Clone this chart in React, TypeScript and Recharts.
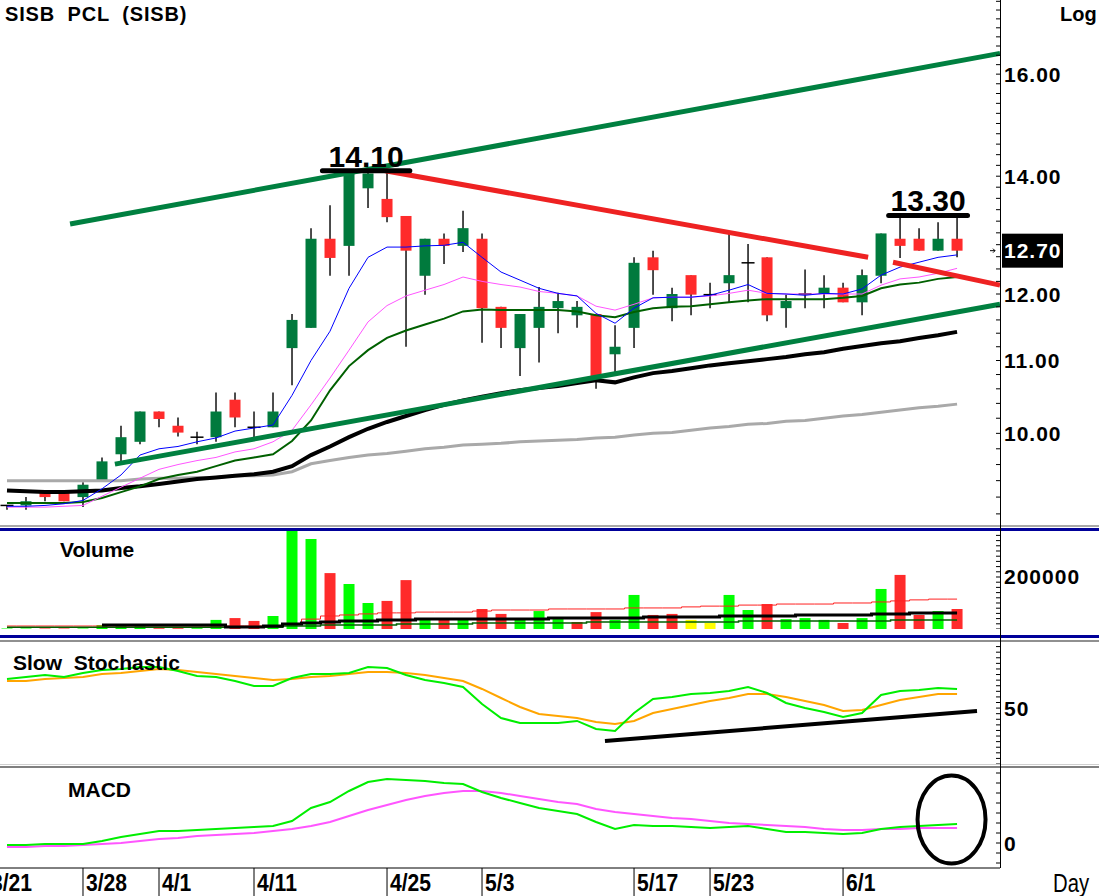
import React from 'react';
import { ComposedChart, Bar, Line, XAxis, YAxis, ReferenceLine, ReferenceDot, Cell } from 'recharts';

// ---------------- data ----------------
const opens = [9.10, 9.10, 9.25, 9.25, 9.20, 9.40, 9.73, 9.89, 10.29, 10.10,
  9.95, 9.95, 10.45, 10.08, 10.08, 11.18, 11.48, 12.90, 12.78, 13.78,
  13.59, 13.29, 12.29, 12.90, 12.78, 12.90, 11.80, 11.18, 11.48, 11.78,
  11.67, 11.69, 11.09, 11.48, 12.59, 11.78, 12.30, 11.99, 12.17, 12.50,
  12.59, 11.78, 12.00, 12.00, 12.10, 11.87, 12.29, 12.90, 12.90, 12.70,
  12.90];
const highs = [9.10, 9.20, 9.25, 9.25, 9.38, 9.69, 10.10, 10.29, 10.29, 10.21,
  10.02, 10.55, 10.55, 10.29, 10.55, 11.69, 13.08, 13.48, 14.10, 14.10,
  14.10, 13.29, 12.90, 12.99, 13.38, 12.99, 11.80, 11.69, 12.11, 12.02,
  11.89, 11.69, 11.52, 12.59, 12.70, 12.10, 12.30, 12.18, 12.99, 12.81,
  12.59, 11.99, 12.39, 12.30, 12.18, 12.39, 12.99, 13.30, 13.08, 13.18,
  13.30];
const lows = [9.05, 9.05, 9.15, 9.15, 9.08, 9.40, 9.62, 9.86, 10.08, 9.96,
  9.86, 9.89, 10.08, 9.95, 10.08, 10.65, 11.48, 12.29, 12.29, 13.43,
  13.18, 11.20, 11.99, 12.48, 12.68, 11.26, 11.18, 10.78, 10.97, 11.40,
  11.48, 10.60, 10.83, 11.18, 11.99, 11.58, 11.67, 11.78, 11.87, 11.87,
  11.58, 11.48, 11.78, 11.78, 11.87, 11.67, 12.17, 12.58, 12.70, 12.70,
  12.59];
const closes = [9.10, 9.15, 9.20, 9.15, 9.35, 9.64, 9.95, 10.29, 10.19, 10.01,
  9.95, 10.29, 10.21, 10.08, 10.29, 11.60, 12.90, 12.58, 14.05, 14.05,
  13.27, 12.70, 12.90, 12.78, 13.08, 11.78, 11.48, 11.69, 11.80, 11.89,
  11.80, 10.78, 11.20, 12.50, 12.38, 12.00, 11.99, 11.99, 12.30, 12.50,
  11.67, 11.89, 12.00, 12.10, 11.87, 12.30, 12.99, 12.78, 12.70, 12.90,
  12.70];

const maBlue = [9.09, 9.09, 9.10, 9.12, 9.16, 9.30, 9.47, 9.72, 9.80, 9.83,
  9.89, 9.94, 10.03, 10.07, 10.11, 10.51, 11.00, 11.43, 12.09, 12.59,
  12.76, 12.76, 12.78, 12.79, 12.84, 12.59, 12.35, 12.22, 12.09, 12.01,
  11.97, 11.70, 11.55, 11.78, 11.94, 11.95, 11.95, 11.98, 12.06, 12.15,
  12.01, 12.00, 11.98, 12.01, 12.00, 12.08, 12.30, 12.43, 12.51, 12.59,
  12.63];
const maMagenta = [9.08, 9.08, 9.08, 9.09, 9.10, 9.21, 9.32, 9.43, 9.54, 9.60,
  9.65, 9.69, 9.76, 9.80, 9.89, 10.04, 10.38, 10.75, 11.15, 11.57,
  11.82, 11.97, 12.06, 12.15, 12.27, 12.20, 12.15, 12.11, 12.04, 12.01,
  11.97, 11.81, 11.75, 11.84, 11.94, 11.95, 11.95, 11.97, 12.01, 12.06,
  12.01, 12.00, 12.00, 12.00, 12.00, 12.00, 12.14, 12.24, 12.27, 12.33,
  12.41];
const maDarkGreen = [9.13, 9.13, 9.13, 9.13, 9.14, 9.19, 9.26, 9.33, 9.42, 9.47,
  9.51, 9.58, 9.65, 9.69, 9.73, 9.90, 10.17, 10.58, 10.92, 11.15,
  11.33, 11.44, 11.53, 11.62, 11.73, 11.76, 11.75, 11.75, 11.75, 11.75,
  11.73, 11.67, 11.64, 11.72, 11.78, 11.80, 11.81, 11.84, 11.87, 11.90,
  11.92, 11.92, 11.92, 11.92, 11.94, 11.97, 12.09, 12.15, 12.18, 12.24,
  12.27];
const maBlack = [9.28, 9.27, 9.26, 9.26, 9.27, 9.28, 9.31, 9.33, 9.36, 9.39,
  9.42, 9.44, 9.46, 9.48, 9.51, 9.58, 9.72, 9.83, 9.95, 10.06,
  10.15, 10.23, 10.31, 10.38, 10.44, 10.49, 10.54, 10.58, 10.61, 10.64,
  10.68, 10.72, 10.69, 10.76, 10.82, 10.85, 10.89, 10.93, 10.96, 10.99,
  11.02, 11.05, 11.09, 11.12, 11.17, 11.21, 11.25, 11.28, 11.33, 11.37,
  11.42];
const maGray = [9.40, 9.40, 9.40, 9.40, 9.40, 9.40, 9.40, 9.42, 9.43, 9.43,
  9.44, 9.44, 9.46, 9.46, 9.47, 9.51, 9.61, 9.65, 9.69, 9.72,
  9.74, 9.77, 9.80, 9.82, 9.85, 9.86, 9.87, 9.89, 9.90, 9.91,
  9.92, 9.94, 9.95, 9.98, 10.00, 10.01, 10.04, 10.07, 10.09, 10.12,
  10.13, 10.16, 10.17, 10.20, 10.23, 10.25, 10.28, 10.31, 10.34, 10.36,
  10.39];

const volumes = [2000, 2000, 2000, 2000, 2000, 15000, 19000, 19000, 3000, 3000,
  3000, 35000, 42000, 31000, 50000, 420000, 346000, 215000, 173000, 100000,
  108000, 188000, 42000, 38000, 38000, 77000, 58000, 35000, 69000, 38000,
  27000, 65000, 35000, 131000, 54000, 58000, 35000, 23000, 131000, 73000,
  96000, 38000, 42000, 35000, 23000, 42000, 154000, 208000, 54000, 69000,
  77000];
const volumeColors = ['g', 'g', 'r', 'r', 'g', 'g', 'g', 'g', 'r', 'r',
  'g', 'g', 'r', 'r', 'g', 'g', 'g', 'r', 'g', 'g',
  'r', 'r', 'g', 'r', 'g', 'r', 'r', 'g', 'g', 'g',
  'r', 'r', 'g', 'g', 'r', 'r', 'y', 'y', 'g', 'g',
  'r', 'g', 'g', 'g', 'r', 'g', 'g', 'r', 'r', 'g',
  'r'];
const volAvgRed = [11500, 11500, 11500, 11500, 11500, 11500, 11500, 11500, 11500, 11500,
  11500, 11500, 11500, 11500, 11500, 19000, 38000, 50000, 54000, 58000,
  62000, 62000, 65000, 65000, 65000, 69000, 73000, 73000, 73000, 77000,
  77000, 77000, 77000, 81000, 81000, 81000, 85000, 88000, 88000, 92000,
  92000, 96000, 96000, 96000, 100000, 100000, 104000, 108000, 112000, 115000,
  115000];
const volAvgBlack = [null, null, null, null, null, 15000, 15000, 15000, 15000, 15000,
  15000, 15000, 8000, 8000, 12000, 19000, 23000, 27000, 31000, 31000,
  35000, 35000, 38000, 38000, 38000, 38000, 38000, 38000, 38000, 42000,
  42000, 42000, 42000, 42000, 46000, 46000, 46000, 46000, 50000, 50000,
  50000, 50000, 54000, 54000, 54000, 54000, 58000, 58000, 62000, 62000,
  62000];
const volAvgGreen = [6500, 6500, 6500, 6500, 6500, 6500, 6500, 6500, 6500, 6500,
  6500, 6500, 6500, 6500, 6500, 11500, 11500, 15000, 15000, 15000,
  15000, 19000, 19000, 19000, 19000, 23000, 23000, 23000, 23000, 23000,
  23000, 27000, 27000, 27000, 27000, 27000, 27000, 27000, 27000, 31000,
  31000, 31000, 31000, 31000, 31000, 31000, 31000, 35000, 35000, 35000,
  35000];

const stochK = [76.0, 77.8, 79.6, 77.8, 81.4, 84.1, 85.0, 86.8, 86.8, 83.2,
  78.7, 77.8, 74.2, 69.8, 69.8, 76.9, 80.5, 80.5, 81.4, 86.8,
  85.9, 79.6, 75.1, 72.5, 68.9, 53.7, 41.1, 36.7, 36.7, 36.7,
  38.5, 31.3, 29.5, 45.6, 58.1, 59.9, 62.6, 63.5, 65.3, 68.9,
  63.5, 54.6, 50.1, 46.5, 42.0, 45.6, 61.7, 65.3, 66.2, 68.0,
  67.1];
const stochD = [74.2, 74.2, 76.0, 76.9, 77.8, 80.5, 81.4, 83.2, 85.0, 84.1,
  82.3, 80.5, 78.7, 76.9, 75.1, 76.0, 77.8, 78.7, 80.5, 82.3,
  82.3, 81.4, 79.6, 76.9, 74.2, 67.1, 59.0, 51.0, 44.7, 42.9,
  41.1, 37.6, 35.8, 38.5, 45.6, 49.2, 52.8, 56.4, 59.0, 62.6,
  62.6, 59.9, 56.4, 52.8, 47.4, 48.3, 52.8, 57.2, 59.9, 62.6,
  62.6];

const macdLine = [-0.02, -0.02, -0.01, -0.01, -0.01, 0.02, 0.06, 0.09, 0.12, 0.12,
  0.13, 0.14, 0.15, 0.16, 0.17, 0.22, 0.35, 0.41, 0.52, 0.61,
  0.64, 0.63, 0.62, 0.60, 0.59, 0.51, 0.45, 0.40, 0.35, 0.32,
  0.29, 0.21, 0.14, 0.18, 0.17, 0.17, 0.16, 0.15, 0.16, 0.17,
  0.14, 0.11, 0.11, 0.10, 0.09, 0.10, 0.14, 0.16, 0.17, 0.18,
  0.19];
const macdSignal = [-0.04, -0.04, -0.03, -0.03, -0.02, -0.01, 0.00, 0.02, 0.04, 0.05,
  0.07, 0.08, 0.09, 0.10, 0.12, 0.14, 0.17, 0.21, 0.27, 0.33,
  0.38, 0.43, 0.47, 0.50, 0.52, 0.52, 0.50, 0.47, 0.44, 0.41,
  0.39, 0.34, 0.31, 0.29, 0.27, 0.25, 0.24, 0.22, 0.20, 0.19,
  0.18, 0.17, 0.16, 0.14, 0.13, 0.13, 0.14, 0.14, 0.15, 0.15,
  0.15];

// date axis (candle index -> label)
const dateTickIndex = [-1, 4, 8, 13, 20, 25, 33, 37, 44];
const dateTickLabels = ['3/21', '3/28', '4/1', '4/11', '4/25', '5/3', '5/17', '5/23', '6/1'];

// right-axis labels
const priceLabels = [10, 11, 12, 14, 16];
const lastPrice = 12.70;
const volumeLabels = [200000];
const stochLabels = [50];
const macdLabels = [0];

// drawn annotations (candle index, value)
const upperChannel = [{ x: 3.32, y: 13.15 }, { x: 52.26, y: 16.44 }];
const lowerChannel = [{ x: 5.68, y: 9.605 }, { x: 52.26, y: 11.84 }];
const redLine1 = [{ x: 19.9, y: 14.10 }, { x: 45.32, y: 12.59 }];
const redLine2 = [{ x: 46.63, y: 12.51 }, { x: 52.26, y: 12.14 }];
const peakMark = [{ x: 16.6, y: 14.10 }, { x: 21.2, y: 14.10 }];
const topMark = [{ x: 46.4, y: 13.30 }, { x: 50.55, y: 13.30 }];
const stochTrend = [{ x: 31.47, y: 20.6 }, { x: 51.05, y: 47.4 }];
const macdCircle = { x: 49.71, y: 0.235 };

// ---------------- layout constants ----------------
const W = 1099;
const FONT = '"Liberation Sans", Arial, Helvetica, sans-serif';
const X_DOMAIN: [number, number] = [-0.368, 52.26];
const PRICE_DOMAIN: [number, number] = [8.87, 17.63];
const VOL_DOMAIN: [number, number] = [0, 376900];
const STOCH_DOMAIN: [number, number] = [0, 110];
const MACD_DOMAIN: [number, number] = [-0.25, 0.75];
const M = { top: 0, right: 0, bottom: 0, left: 0 };
const CANDLE_UP = '#007a3d';
const CANDLE_DOWN = '#ff2b2b';
const VOL_COLORS: Record<string, string> = { g: '#00ff00', r: '#ff2b2b', y: '#ffff00' };

const priceTicks = [...Array.from({ length: 44 }, (_, k) => +(9 + 0.2 * k).toFixed(1)), lastPrice].sort((a, b) => a - b);
const volTicks = Array.from({ length: 19 }, (_, k) => k * 20000);
const stochTicks = Array.from({ length: 23 }, (_, k) => k * 5);
const macdTicks = Array.from({ length: 10 }, (_, k) => +(-0.2 + 0.1 * k).toFixed(1));

const priceRows = opens.map((o, i) => ({
  i,
  o,
  c: closes[i],
  wick: [lows[i], highs[i]],
  body: [Math.min(o, closes[i]), Math.max(o, closes[i])],
  blue: maBlue[i],
  magenta: maMagenta[i],
  dgreen: maDarkGreen[i],
  black: maBlack[i],
  gray: maGray[i],
}));
const volRows = volumes.map((v, i) => ({ i, v, red: volAvgRed[i], black: volAvgBlack[i], green: volAvgGreen[i] }));
const stochRows = stochK.map((k, i) => ({ i, k, d: stochD[i] }));
const macdRows = macdLine.map((m, i) => ({ i, m, s: macdSignal[i] }));

// ---------------- shapes ----------------
const WickShape = (p: any) => {
  const { x, y, width, height } = p;
  if (x == null || y == null) return <g />;
  const cx = x + width / 2;
  return <line x1={cx} x2={cx} y1={y} y2={y + height} stroke="#000" strokeWidth={1.4} />;
};

const BodyShape = (p: any) => {
  const { x, y, width, height, payload } = p;
  if (x == null || y == null) return <g />;
  const top = Math.min(y, y + height);
  const h = Math.abs(height);
  if (h < 1) {
    return <line x1={x - 1} x2={x + width + 1} y1={top} y2={top} stroke="#000" strokeWidth={1.5} />;
  }
  return <rect x={x} y={top} width={width} height={h} fill={payload.c >= payload.o ? CANDLE_UP : CANDLE_DOWN} />;
};

const RightTick = (props: any) => {
  const { x, y, payload, labels, fmt, highlight } = props;
  const v = payload.value;
  const isLabel = labels.some((m: number) => Math.abs(m - v) < 1e-6);
  const isHi = highlight != null && Math.abs(highlight - v) < 1e-6;
  if (isHi) {
    return (
      <g>
        <path d={`M${x - 10},${y} h5 M${x - 7},${y - 2} l2,2 l-2,2`} stroke="#000" fill="none" strokeWidth={1} />
        <rect x={x + 2} y={y - 17} width={61} height={34} fill="#000" />
        <text x={x + 4} y={y + 7.5} fill="#fff" fontSize={21} fontWeight="bold" fontFamily={FONT} style={{ letterSpacing: 1 }}>
          {fmt(v)}
        </text>
      </g>
    );
  }
  return (
    <g>
      <line x1={x - 4} x2={x} y1={y} y2={y} stroke="#000" strokeWidth={1} />
      {isLabel && (
        <text x={x + 4} y={y + 7.5} fill="#000" fontSize={21} fontWeight="bold" fontFamily={FONT} style={{ letterSpacing: 1 }}>
          {fmt(v)}
        </text>
      )}
    </g>
  );
};

const DateTick = (props: any) => {
  const { x, y, payload } = props;
  const k = dateTickIndex.indexOf(payload.value);
  const label = k >= 0 ? dateTickLabels[k] : '';
  return (
    <g>
      <line x1={x} x2={x} y1={y} y2={y + 28} stroke="#000" strokeWidth={1} />
      <text transform={`translate(${x + 3},${y + 23}) scale(0.88,1)`} fontSize={24} fontWeight="bold" fontFamily={FONT} fill="#000">
        {label}
      </text>
    </g>
  );
};

const CircleShape = (p: any) => (
  <ellipse cx={p.cx} cy={p.cy} rx={34} ry={44} fill="none" stroke="#000" strokeWidth={4} />
);

const labelStyle = (left: number, top: number, size: number, extra: React.CSSProperties = {}): React.CSSProperties => ({
  position: 'absolute',
  left,
  top,
  fontFamily: FONT,
  fontSize: size,
  fontWeight: 'bold',
  lineHeight: `${size}px`,
  whiteSpace: 'pre',
  color: '#000',
  ...extra,
});

const hLine = (top: number, h: number, color: string): React.CSSProperties => ({
  position: 'absolute', left: 0, top, width: W, height: h, background: color,
});

const lineProps = { dot: false, activeDot: false, legendType: 'none' as const, isAnimationActive: false, strokeLinecap: 'butt' as const };

export default function App() {
  return (
    <div style={{ position: 'absolute', left: 0, top: 0, width: W, height: 896, background: '#fff', overflow: 'hidden' }}>
      {/* PRICE */}
      <div style={{ position: 'absolute', left: 0, top: 0 }}>
        <ComposedChart width={W} height={525} data={priceRows} margin={M}>
          <XAxis xAxisId="w" dataKey="i" type="number" domain={X_DOMAIN} allowDataOverflow hide />
          <XAxis xAxisId="b" dataKey="i" type="number" domain={X_DOMAIN} allowDataOverflow hide />
          <YAxis yAxisId="p" orientation="right" width={99} type="number" scale="log" domain={PRICE_DOMAIN}
            allowDataOverflow ticks={priceTicks} interval={0} axisLine={false} tickLine={false} tickSize={0} tickMargin={0}
            tick={<RightTick labels={priceLabels} highlight={lastPrice} fmt={(v: number) => v.toFixed(2)} />} />
          <Bar xAxisId="w" yAxisId="p" dataKey="wick" barSize={11} shape={WickShape} isAnimationActive={false} />
          <Bar xAxisId="b" yAxisId="p" dataKey="body" barSize={11} shape={BodyShape} isAnimationActive={false} />
          <Line xAxisId="b" yAxisId="p" dataKey="gray" stroke="#a9a9a9" strokeWidth={3} {...lineProps} />
          <Line xAxisId="b" yAxisId="p" dataKey="black" stroke="#000" strokeWidth={4} {...lineProps} />
          <Line xAxisId="b" yAxisId="p" dataKey="dgreen" stroke="#006000" strokeWidth={2} {...lineProps} />
          <Line xAxisId="b" yAxisId="p" dataKey="magenta" stroke="#ff55ff" strokeWidth={1} {...lineProps} />
          <Line xAxisId="b" yAxisId="p" dataKey="blue" stroke="#0000ff" strokeWidth={1} {...lineProps} />
          <ReferenceLine xAxisId="b" yAxisId="p" segment={upperChannel} stroke="#008040" strokeWidth={5} ifOverflow="visible" />
          <ReferenceLine xAxisId="b" yAxisId="p" segment={lowerChannel} stroke="#008040" strokeWidth={5} ifOverflow="visible" />
          <ReferenceLine xAxisId="b" yAxisId="p" segment={redLine1} stroke="#ee2222" strokeWidth={5} ifOverflow="visible" />
          <ReferenceLine xAxisId="b" yAxisId="p" segment={redLine2} stroke="#ee2222" strokeWidth={5} ifOverflow="visible" />
          <ReferenceLine xAxisId="b" yAxisId="p" segment={peakMark} stroke="#000" strokeWidth={5} strokeLinecap="round" ifOverflow="visible"
            label={{ value: '14.10', position: 'top', offset: 4, fontSize: 30, fontWeight: 'bold', fill: '#000', fontFamily: FONT }} />
          <ReferenceLine xAxisId="b" yAxisId="p" segment={topMark} stroke="#000" strokeWidth={5} strokeLinecap="round" ifOverflow="visible"
            label={{ value: '13.30', position: 'top', offset: 4, fontSize: 30, fontWeight: 'bold', fill: '#000', fontFamily: FONT }} />
        </ComposedChart>
      </div>

      {/* VOLUME */}
      <div style={{ position: 'absolute', left: 0, top: 531 }}>
        <ComposedChart width={W} height={98} data={volRows} margin={M}>
          <XAxis dataKey="i" type="number" domain={X_DOMAIN} allowDataOverflow hide />
          <YAxis orientation="right" width={99} type="number" domain={VOL_DOMAIN} allowDataOverflow ticks={volTicks}
            interval={0} axisLine={false} tickLine={false} tickSize={0} tickMargin={0}
            tick={<RightTick labels={volumeLabels} fmt={(v: number) => String(v)} />} />
          <Bar dataKey="v" barSize={11} isAnimationActive={false}>
            {volRows.map((r) => (
              <Cell key={r.i} fill={VOL_COLORS[volumeColors[r.i]]} />
            ))}
          </Bar>
          <Line type="step" dataKey="red" stroke="#ff2020" strokeWidth={1} {...lineProps} />
          <Line type="step" dataKey="green" stroke="#006000" strokeWidth={1.5} {...lineProps} />
          <Line type="step" dataKey="black" stroke="#000" strokeWidth={3} {...lineProps} />
        </ComposedChart>
      </div>

      {/* SLOW STOCHASTIC */}
      <div style={{ position: 'absolute', left: 0, top: 641 }}>
        <ComposedChart width={W} height={123} data={stochRows} margin={M}>
          <XAxis dataKey="i" type="number" domain={X_DOMAIN} allowDataOverflow hide />
          <YAxis orientation="right" width={99} type="number" domain={STOCH_DOMAIN} allowDataOverflow ticks={stochTicks}
            interval={0} axisLine={false} tickLine={false} tickSize={0} tickMargin={0}
            tick={<RightTick labels={stochLabels} fmt={(v: number) => String(v)} />} />
          <Line dataKey="d" stroke="#ffa500" strokeWidth={2} {...lineProps} />
          <Line dataKey="k" stroke="#00ee00" strokeWidth={2} {...lineProps} />
          <ReferenceLine segment={stochTrend} stroke="#000" strokeWidth={4} ifOverflow="visible" />
        </ComposedChart>
      </div>

      {/* MACD */}
      <div style={{ position: 'absolute', left: 0, top: 768 }}>
        <ComposedChart width={W} height={128} data={macdRows} margin={M}>
          <XAxis dataKey="i" type="number" domain={X_DOMAIN} allowDataOverflow ticks={dateTickIndex} interval={0}
            height={28} axisLine={{ stroke: '#000', strokeWidth: 1 }} tickLine={false} tickSize={0} tickMargin={0}
            tick={<DateTick />} />
          <YAxis orientation="right" width={99} type="number" domain={MACD_DOMAIN} allowDataOverflow ticks={macdTicks}
            interval={0} axisLine={false} tickLine={false} tickSize={0} tickMargin={0}
            tick={<RightTick labels={macdLabels} fmt={() => '0'} />} />
          <Line dataKey="s" stroke="#ff55ff" strokeWidth={2} {...lineProps} />
          <Line dataKey="m" stroke="#00ee00" strokeWidth={2} {...lineProps} />
          <ReferenceDot x={macdCircle.x} y={macdCircle.y} r={40} shape={CircleShape} ifOverflow="visible" />
        </ComposedChart>
      </div>

      {/* panel separators */}
      <div style={hLine(525, 2, '#a8a8a8')} />
      <div style={hLine(528, 3, '#000099')} />
      <div style={hLine(635, 3, '#000099')} />
      <div style={hLine(639.5, 2, '#909090')} />
      <div style={hLine(764, 1, '#d0d0d0')} />
      <div style={hLine(766, 2, '#808080')} />
      {/* right axis line */}
      <div style={{ position: 'absolute', left: 1000, top: 0, width: 1, height: 868, background: '#000' }} />

      {/* titles */}
      <div style={labelStyle(5, 3.5, 20, { letterSpacing: 0.8 })}>{'SISB  PCL  (SISB)'}</div>
      <div style={labelStyle(1060, 3.5, 20)}>Log</div>
      <div style={labelStyle(60, 538.5, 21)}>Volume</div>
      <div style={labelStyle(13, 651.5, 21)}>{'Slow  Stochastic'}</div>
      <div style={labelStyle(68, 778.5, 21)}>MACD</div>
      <div style={labelStyle(1053, 869.5, 26, { fontWeight: 'normal', transform: 'scaleX(0.78)', transformOrigin: 'left top' })}>Day</div>
    </div>
  );
}
